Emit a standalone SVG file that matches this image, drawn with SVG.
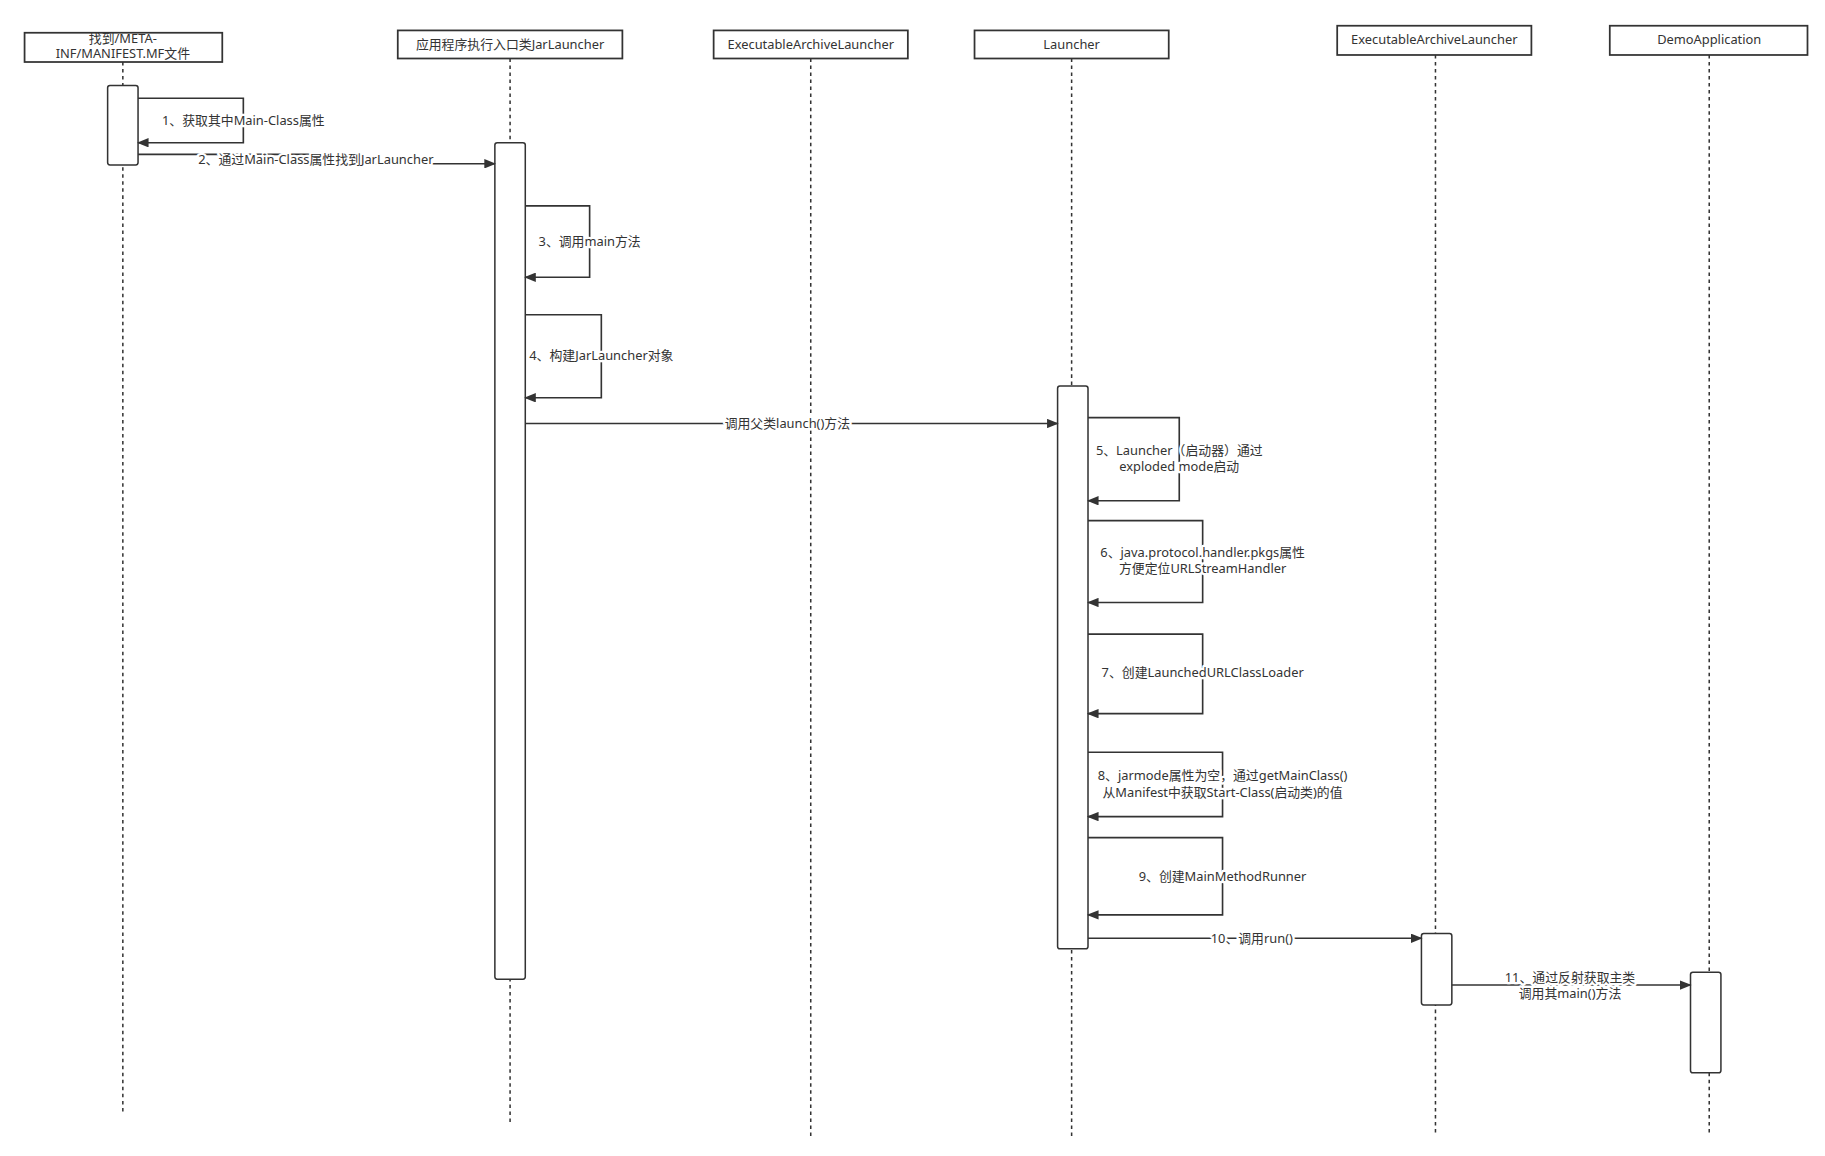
<svg xmlns="http://www.w3.org/2000/svg" width="1825" height="1156" viewBox="0 0 1825 1156">
<style>
.hd{fill:#fff;stroke:#333;stroke-width:1.5}
.ll{stroke:#333;stroke-width:1.3;stroke-dasharray:3,3;fill:none}
.act{fill:#fff;stroke:#333;stroke-width:1.3}
.m{fill:none;stroke:#333;stroke-width:1.4;marker-end:url(#ah)}
text{font-family:"Noto Sans","Noto Sans CJK SC",sans-serif;font-size:11px;fill:#333;text-anchor:middle}
.lb{stroke:#fff;stroke-width:4;paint-order:stroke;stroke-linejoin:round}
</style>
<defs><marker id="ah" markerWidth="10" markerHeight="8" refX="9" refY="4" orient="auto" markerUnits="userSpaceOnUse"><path d="M0,0 L10,4 L0,8 Z" fill="#333"/></marker></defs>
<rect width="1825" height="1156" fill="#fff"/>
<g transform="scale(1.1699)">
<g id="p1"><line class="ll" x1="105" y1="53" x2="105" y2="952"/><rect class="hd" x="21" y="28" width="169" height="25"/><text x="105" y="37">找到/META-</text><text x="105" y="50">INF/MANIFEST.MF文件</text></g>
<g id="p2"><line class="ll" x1="436" y1="50" x2="436" y2="962"/><rect class="hd" x="340" y="26" width="192" height="24"/><text x="436" y="42">应用程序执行入口类JarLauncher</text></g>
<g id="p3"><line class="ll" x1="693" y1="50" x2="693" y2="972"/><rect class="hd" x="610" y="26" width="166" height="24"/><text x="693" y="42">ExecutableArchiveLauncher</text></g>
<g id="p4"><line class="ll" x1="916" y1="50" x2="916" y2="972"/><rect class="hd" x="833" y="26" width="166" height="24"/><text x="916" y="42">Launcher</text></g>
<g id="p5"><line class="ll" x1="1227" y1="47" x2="1227" y2="970"/><rect class="hd" x="1143" y="22" width="166" height="25"/><text x="1226" y="38">ExecutableArchiveLauncher</text></g>
<g id="p6"><line class="ll" x1="1461" y1="47" x2="1461" y2="968"/><rect class="hd" x="1376" y="22" width="169" height="25"/><text x="1461" y="38">DemoApplication</text></g>
<g id="activations">
<rect class="act" x="92" y="73" width="26" height="68" rx="2"/>
<rect class="act" x="423" y="122" width="26" height="715" rx="2"/>
<rect class="act" x="904" y="330" width="26" height="481" rx="2"/>
<rect class="act" x="1215" y="798" width="26" height="61" rx="2"/>
<rect class="act" x="1445" y="831" width="26" height="86" rx="2"/>
</g>
<g id="connectors">
<path class="m" d="M118,84 H208 V122 H118"/>
<path class="m" d="M118,132 H270 V140 H423"/>
<path class="m" d="M449,176 H504 V237 H449"/>
<path class="m" d="M449,269 H514 V340 H449"/>
<path class="m" d="M449,362 H904"/>
<path class="m" d="M930,357 H1008 V428 H930"/>
<path class="m" d="M930,445 H1028 V515 H930"/>
<path class="m" d="M930,542 H1028 V610 H930"/>
<path class="m" d="M930,643 H1045 V698 H930"/>
<path class="m" d="M930,716 H1045 V782 H930"/>
<path class="m" d="M930,802 H1215"/>
<path class="m" d="M1241,842 H1445"/>
</g>
<g id="labels">
<text class="lb" x="208" y="107">1、获取其中Main-Class属性</text>
<text class="lb" x="270" y="140">2、通过Main-Class属性找到JarLauncher</text>
<text class="lb" x="504" y="210">3、调用main方法</text>
<text class="lb" x="514" y="308">4、构建JarLauncher对象</text>
<text class="lb" x="673" y="366">调用父类launch()方法</text>
<text class="lb" x="1008" y="389">5、Launcher（启动器）通过</text>
<text class="lb" x="1008" y="403">exploded mode启动</text>
<text class="lb" x="1028" y="476">6、java.protocol.handler.pkgs属性</text>
<text class="lb" x="1028" y="490">方便定位URLStreamHandler</text>
<text class="lb" x="1028" y="579">7、创建LaunchedURLClassLoader</text>
<text class="lb" x="1045" y="667">8、jarmode属性为空，通过getMainClass()</text>
<text class="lb" x="1045" y="681">从Manifest中获取Start-Class(启动类)的值</text>
<text class="lb" x="1045" y="753">9、创建MainMethodRunner</text>
<text class="lb" x="1070" y="806">10、调用run()</text>
<text class="lb" x="1342" y="839">11、通过反射获取主类</text>
<text class="lb" x="1342" y="853">调用其main()方法</text>
</g>
</g>
</svg>
